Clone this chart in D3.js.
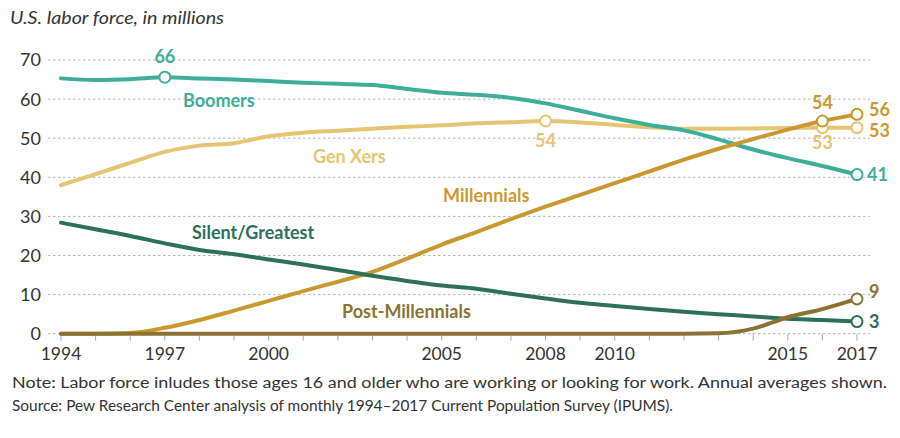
<!DOCTYPE html>
<html><head><meta charset="utf-8">
<script src="https://cdn.jsdelivr.net/npm/d3@7"></script>
<style>
html,body{margin:0;padding:0;background:#fff;}
svg text{font-family:Lato,"Open Sans",sans-serif;}
</style></head>
<body>
<svg id="chart" width="900" height="438"></svg>
<script>
const years = d3.range(1994, 2018);
const boomers = [65.3,64.9,65.1,65.6,65.3,65.0,64.6,64.2,63.9,63.6,62.6,61.6,61.1,60.3,58.9,57.0,55.1,53.4,52.0,49.7,47.1,44.9,42.9,40.7];
const genX = [38.0,40.8,43.7,46.5,48.1,48.7,50.5,51.4,51.9,52.4,52.9,53.3,53.8,54.1,54.4,54.0,53.4,52.8,52.4,52.4,52.5,52.6,52.7,52.7];
const millennials = [0,0,0.2,1.5,3.5,5.9,8.4,10.9,13.3,15.8,19.2,22.8,26.0,29.3,32.5,35.5,38.5,41.5,44.5,47.3,49.8,52.2,54.4,56.1];
const silent = [28.4,26.7,25.0,23.1,21.4,20.3,19.0,17.7,16.3,14.8,13.5,12.3,11.5,10.2,9.0,7.9,7.1,6.3,5.6,5.0,4.4,3.8,3.5,3.1];
const postMillennials = [0,0,0,0,0,0,0,0,0,0,0,0,0,0,0,0,0,0,0,0.1,1.3,4.2,6.3,8.9];
const yTicks = [0,10,20,30,40,50,60,70];
const xTickLabels = [1994,1997,2000,2005,2008,2010,2015,2017];

const svg = d3.select("#chart");
const x = d3.scaleLinear().domain([1994,2017]).range([61,857]);
const y = d3.scaleLinear().domain([0,70]).range([333.7,60]);

// title
svg.append("text").attr("x",10).attr("y",24).attr("font-size",17.5).attr("font-style","italic")
  .attr("fill","#333").attr("textLength",214).attr("lengthAdjust","spacingAndGlyphs")
  .text("U.S. labor force, in millions");

// gridlines
svg.append("g").selectAll("line").data(yTicks).join("line")
  .attr("x1",48).attr("x2",870).attr("y1",d=>y(d)).attr("y2",d=>y(d))
  .attr("stroke","#b5b5b5").attr("stroke-width",1).attr("stroke-dasharray","2.5,2.5");

// y labels
svg.append("g").selectAll("text").data(yTicks).join("text")
  .attr("x",41).attr("y",d=>y(d)).attr("dy","0.36em").attr("text-anchor","end")
  .attr("font-size",18).attr("fill","#333").text(d=>d);

// x ticks
svg.append("g").selectAll("line").data(years).join("line")
  .attr("x1",d=>x(d)).attr("x2",d=>x(d)).attr("y1",y(0)).attr("y2",y(0)+7)
  .attr("stroke","#aaa").attr("stroke-width",1);
svg.append("g").selectAll("text").data(xTickLabels).join("text")
  .attr("x",d=>x(d)).attr("y",360).attr("text-anchor","middle")
  .attr("font-size",17.5).attr("fill","#333").text(d=>d);

const line = d3.line().x((d,i)=>x(years[i])).y(d=>y(d)).curve(d3.curveMonotoneX);

const series = [
  {name:"genX", data:genX, color:"#e4c572"},
  {name:"boomers", data:boomers, color:"#3fae98"},
  {name:"millennials", data:millennials, color:"#c9992f"},
  {name:"silent", data:silent, color:"#2c6f5b"},
  {name:"post", data:postMillennials, color:"#8a7332"}
];
const col = Object.fromEntries(series.map(s=>[s.name,s.color]));
series.forEach(s=>{
  svg.append("path").datum(s.data).attr("d",line).attr("fill","none")
    .attr("stroke",s.color).attr("stroke-width",4).attr("stroke-linejoin","round").attr("stroke-linecap","round");
});

// markers
const markers = [
  ["boomers",boomers,1997],["boomers",boomers,2017],
  ["genX",genX,2008],["genX",genX,2016],["genX",genX,2017],
  ["millennials",millennials,2016],["millennials",millennials,2017],
  ["silent",silent,2017],["post",postMillennials,2017]
];
markers.forEach(([n,arr,yr])=>{
  svg.append("circle").attr("cx",x(yr)).attr("cy",y(arr[yr-1994])).attr("r",5.5)
    .attr("fill","#fff").attr("stroke",col[n]).attr("stroke-width",2);
});

function lab(t,xx,yy,c,anchor="start",size=18){
  svg.append("text").attr("x",xx).attr("y",yy).attr("dy","0.36em").attr("text-anchor",anchor)
    .attr("font-size",size).attr("font-weight","bold").attr("fill",c).text(t);
}
lab("66", x(1997), 57, col.boomers, "middle");
lab("Boomers", 183, 101, col.boomers);
lab("Gen Xers", 313, 157, col.genX);
lab("Millennials", 443, 196, col.millennials);
lab("Silent/Greatest", 192, 233, col.silent);
lab("Post-Millennials", 342, 312, col.post);
lab("54", x(2008), 141, col.genX, "middle");
lab("54", x(2016), 103, col.millennials, "middle");
lab("53", x(2016), 143, col.genX, "middle");
lab("56", 869, 110, col.millennials);
lab("53", 869, 131, col.millennials);
lab("41", 867, 175, col.boomers);
lab("9", 869, 292, col.post);
lab("3", 869, 322, col.silent);

// notes
svg.append("text").attr("x",12).attr("y",388).attr("font-size",15.5).attr("fill","#333")
  .attr("textLength",875).attr("lengthAdjust","spacingAndGlyphs")
  .text("Note: Labor force inludes those ages 16 and older who are working or looking for work. Annual averages shown.");
svg.append("text").attr("x",12).attr("y",411).attr("font-size",15.5).attr("fill","#333")
  .attr("textLength",661).attr("lengthAdjust","spacingAndGlyphs")
  .text("Source: Pew Research Center analysis of monthly 1994\u20132017 Current Population Survey (IPUMS).");
</script>
</body></html>
